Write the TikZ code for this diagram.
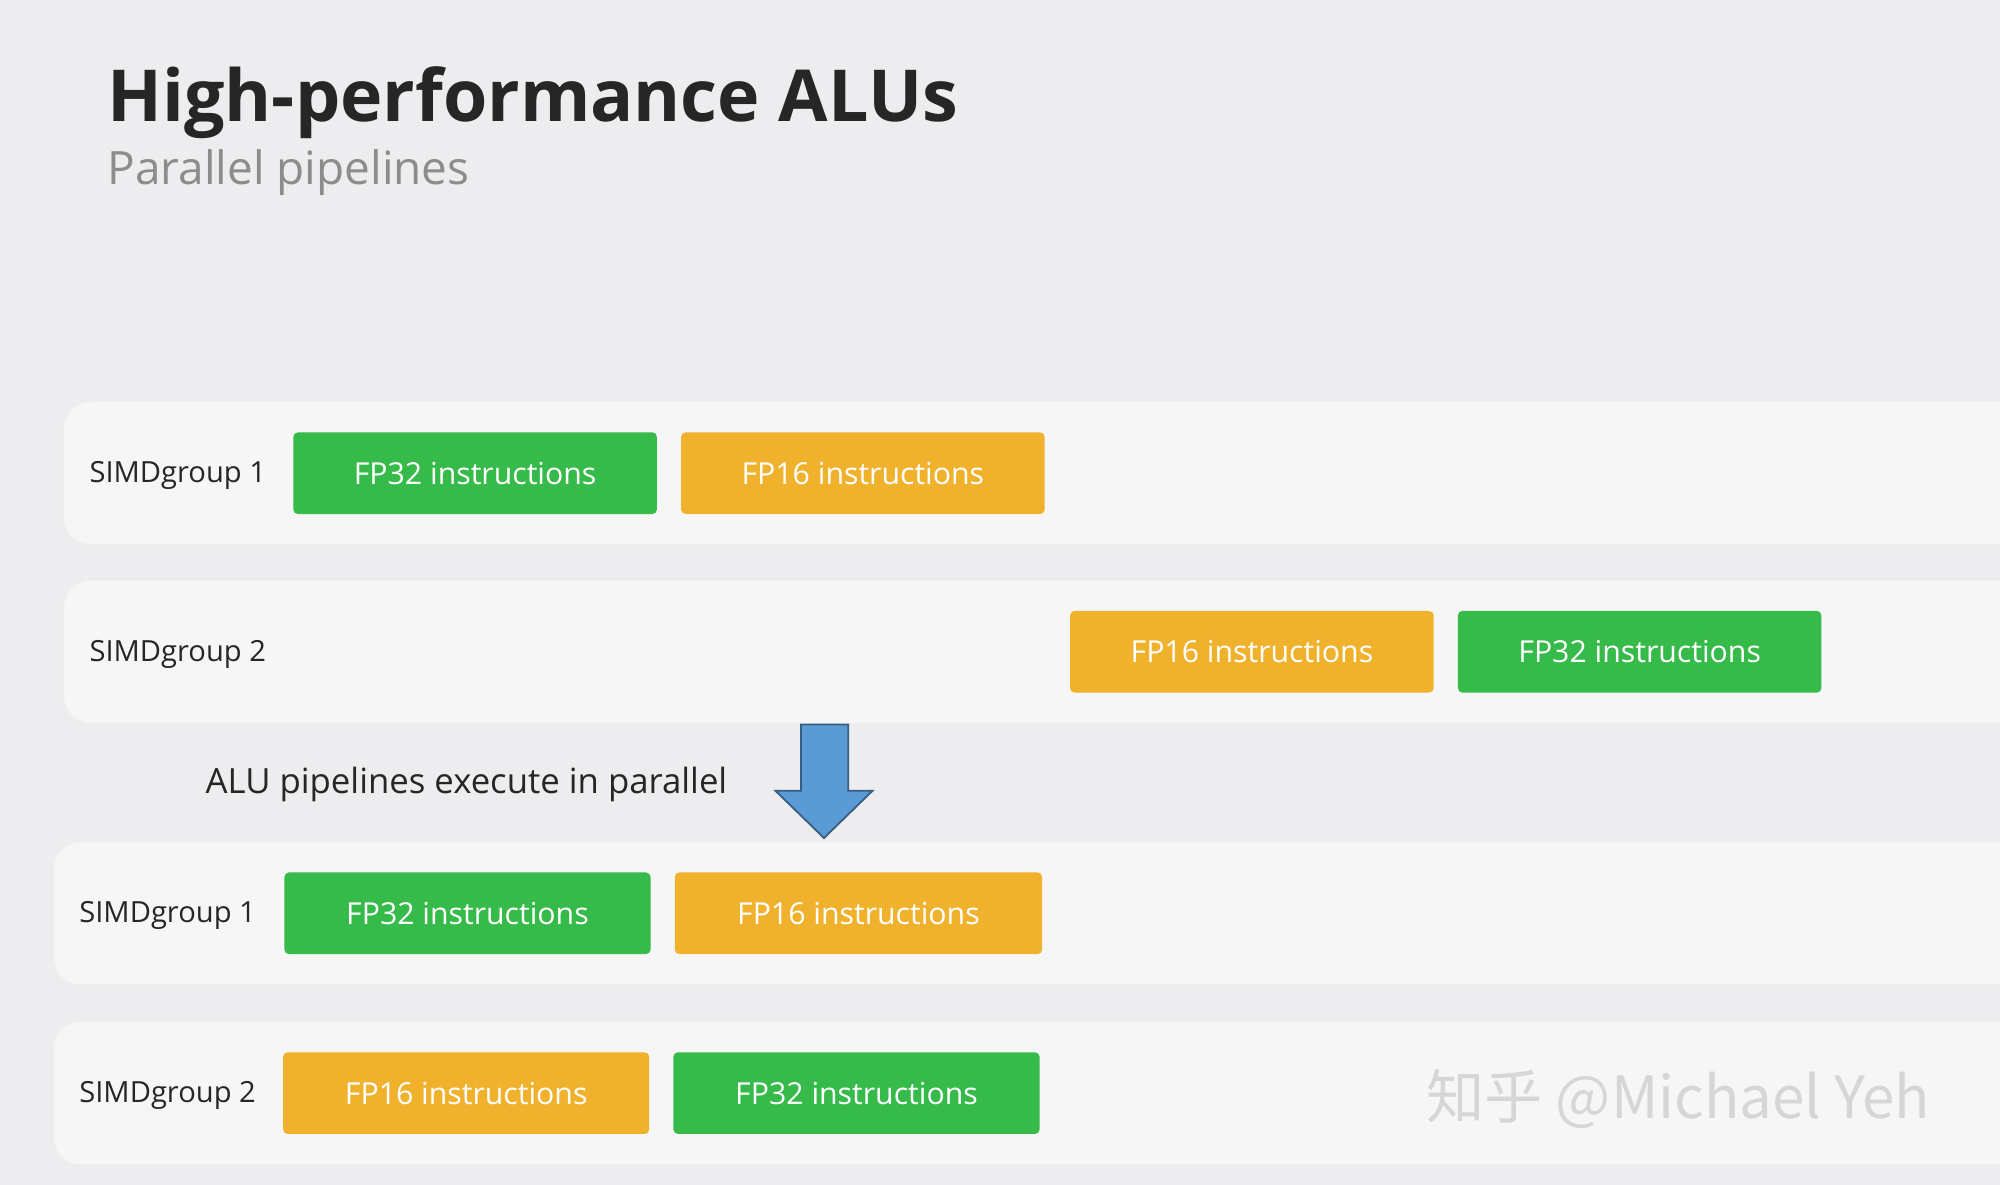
\documentclass[tikz,border=0pt]{standalone}
\usepackage{fontspec}
\setmainfont{Open Sans}
\newfontfamily\cjkf{Noto Sans CJK SC}
\definecolor{bg}{HTML}{EDEDEF}
\definecolor{band}{HTML}{F6F6F7}
\definecolor{gr}{HTML}{36BA4A}
\definecolor{og}{HTML}{F0B12D}
\definecolor{ar}{HTML}{5B9BD5}
\begin{document}
\begin{tikzpicture}[x=0.02cm,y=-0.02cm,
  bandst/.style={fill=band,rounded corners=12pt,draw=black!6},
  box/.style={rounded corners=2pt,text=white,font=\fontsize{13.5}{15}\selectfont,inner sep=0pt},
  lab/.style={anchor=west,font=\fontsize{13}{15}\selectfont,text=black!85}]
\fill[bg] (0,0) rectangle (1568,929);
\useasboundingbox (0,0) rectangle (1568,929);
\node[anchor=base west,inner sep=0pt,font=\bfseries\fontsize{32}{36}\selectfont,text=black!85] (t) at (84,95) {High-performance ALUs};
\node[anchor=base west,inner sep=0pt,font=\fontsize{20.5}{24}\selectfont,text=black!45] (s) at (84,145) {Parallel pipelines};
% bands
\draw[bandst] (50,315) rectangle (1600,427);
\draw[bandst] (50,455) rectangle (1600,567);
\draw[bandst] (42,660) rectangle (1600,772);
\draw[bandst] (42,801) rectangle (1600,913);
\node[lab] (l1) at (64,373) {SIMDgroup 1};
\node[lab] (l2) at (64,513) {SIMDgroup 2};
\node[lab] (l3) at (56,718) {SIMDgroup 1};
\node[lab] (l4) at (56,859) {SIMDgroup 2};
% boxes
\path[box,fill=gr] (230,339) rectangle node[text=white,font=\fontsize{13.5}{15}\selectfont] (b1) {FP32 instructions} (515,403);
\path[box,fill=og] (534,339) rectangle node[text=white,font=\fontsize{13.5}{15}\selectfont] (b2) {FP16 instructions} (819,403);
\path[box,fill=og] (839,479) rectangle node[text=white,font=\fontsize{13.5}{15}\selectfont] (b3) {FP16 instructions} (1124,543);
\path[box,fill=gr] (1143,479) rectangle node[text=white,font=\fontsize{13.5}{15}\selectfont] (b4) {FP32 instructions} (1428,543);
\path[box,fill=gr] (223,684) rectangle node[text=white,font=\fontsize{13.5}{15}\selectfont] (b5) {FP32 instructions} (510,748);
\path[box,fill=og] (529,684) rectangle node[text=white,font=\fontsize{13.5}{15}\selectfont] (b6) {FP16 instructions} (817,748);
\path[box,fill=og] (222,825) rectangle node[text=white,font=\fontsize{13.5}{15}\selectfont] (b7) {FP16 instructions} (509,889);
\path[box,fill=gr] (528,825) rectangle node[text=white,font=\fontsize{13.5}{15}\selectfont] (b8) {FP32 instructions} (815,889);
\node[anchor=west,font=\fontsize{15.5}{18}\selectfont,text=black!85] (alu) at (155,615) {ALU pipelines execute in parallel};
% arrow
\draw[fill=ar,draw=ar!60!black,line width=0.8pt] (628,568) -- (665,568) -- (665,620) -- (684,620) -- (646,657) -- (608,620) -- (628,620) -- cycle;
\node[anchor=west,font=\cjkf\fontsize{26}{30}\selectfont,text=black!35,opacity=0.4] (wm) at (1112,862) {知乎 @Michael Yeh};
\end{tikzpicture}
\end{document}
